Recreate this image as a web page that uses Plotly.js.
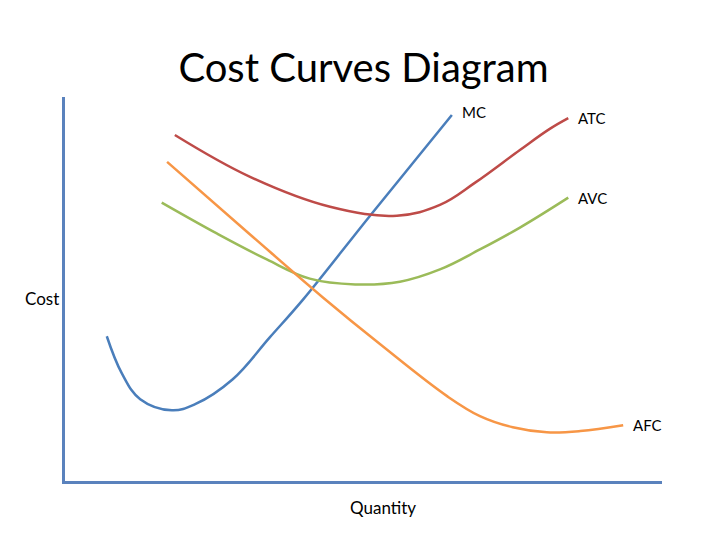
<!DOCTYPE html>
<html>
<head>
<meta charset="utf-8">
<script src="https://cdn.plot.ly/plotly-3.0.1.min.js"></script>
<style>html,body{margin:0;padding:0;background:#fff;}#chart{width:720px;height:540px;}</style>
</head>
<body>
<div id="chart"></div>
<script>
// Quantity (x) and Cost (y) readings, axis units 0-100
var mcQ  = [7.0, 9.5, 12.6, 17.9, 21.8, 28.1, 34.3, 39.9, 51.1, 64.8];
var mcC  = [37.7, 28.1, 21.3, 18.4, 20.0, 26.5, 37.4, 47.3, 69.1, 95.3];
var atcQ = [18.4, 31.0, 44.4, 55.6, 62.8, 68.7, 76.2, 81.2, 84.3];
var atcC = [90.1, 79.2, 71.4, 69.1, 71.9, 77.7, 86.2, 91.7, 94.5];
var avcQ = [16.2, 25.5, 33.8, 41.0, 48.6, 56.1, 62.8, 69.5, 76.2, 84.3];
var avcC = [72.5, 64.4, 57.7, 52.7, 51.2, 51.9, 55.1, 60.3, 66.0, 73.8];
var afcQ = [17.1, 31.0, 43.2, 52.8, 64.0, 69.5, 75.0, 80.7, 86.3, 93.5];
var afcC = [83.1, 64.2, 47.8, 35.6, 22.1, 16.9, 14.0, 12.7, 13.0, 14.5];
var seriesNames = ["MC", "ATC", "AVC", "AFC"];
var colors = ["#4a7ebb", "#be4b48", "#9bbb59", "#f79646"];
var title = "Cost Curves Diagram";
var xLabel = "Quantity";
var yLabel = "Cost";

var xs = [mcQ, atcQ, avcQ, afcQ];
var ys = [mcC, atcC, avcC, afcC];
var FONT = "Lato, 'Liberation Sans', sans-serif";

var traces = [];
var annotations = [];
for (var i = 0; i < 4; i++) {
  traces.push({
    x: xs[i], y: ys[i], mode: "lines", name: seriesNames[i],
    line: {color: colors[i], width: 2.5, shape: "spline", smoothing: 1.1},
    hoverinfo: "skip"
  });
  var n = xs[i].length - 1;
  annotations.push({
    x: xs[i][n], y: ys[i][n], xref: "x", yref: "y",
    text: seriesNames[i], showarrow: false,
    xanchor: "left", yanchor: "middle",
    xshift: 8, yshift: (i === 0 ? 3 : 0),
    font: {family: FONT, size: 15, color: "#000"}
  });
}

var mT = 97, mB = 59, mL = 65, mR = 58;
var plotH = 540 - mT - mB;
annotations.push({
  x: 0, y: (540 - mB - 298) / plotH, xref: "paper", yref: "paper",
  xanchor: "right", yanchor: "middle", xshift: -4,
  text: yLabel, showarrow: false, font: {family: FONT, size: 17, color: "#000"}
});
annotations.push({
  x: (383 - mL) / (720 - mL - mR), y: 0, xref: "paper", yref: "paper",
  xanchor: "center", yanchor: "middle", yshift: -26,
  text: xLabel, showarrow: false, font: {family: FONT, size: 17, color: "#000"}
});

var layout = {
  width: 720, height: 540,
  paper_bgcolor: "#fff", plot_bgcolor: "#fff",
  margin: {l: mL, r: mR, t: mT, b: mB},
  showlegend: false,
  title: {text: title, x: 0.5, xref: "paper", xanchor: "center", y: 1 - 68 / 540, yref: "container", yanchor: "middle",
          font: {family: FONT, size: 40, color: "#000"}},
  xaxis: {range: [0, 100], showline: true, linecolor: "#5a82bd", linewidth: 3,
          showgrid: false, zeroline: false, showticklabels: false, ticks: "", fixedrange: true},
  yaxis: {range: [0, 100], showline: true, linecolor: "#5a82bd", linewidth: 3,
          showgrid: false, zeroline: false, showticklabels: false, ticks: "", fixedrange: true},
  annotations: annotations
};

Plotly.newPlot("chart", traces, layout, {staticPlot: true, displayModeBar: false});
</script>
</body>
</html>
